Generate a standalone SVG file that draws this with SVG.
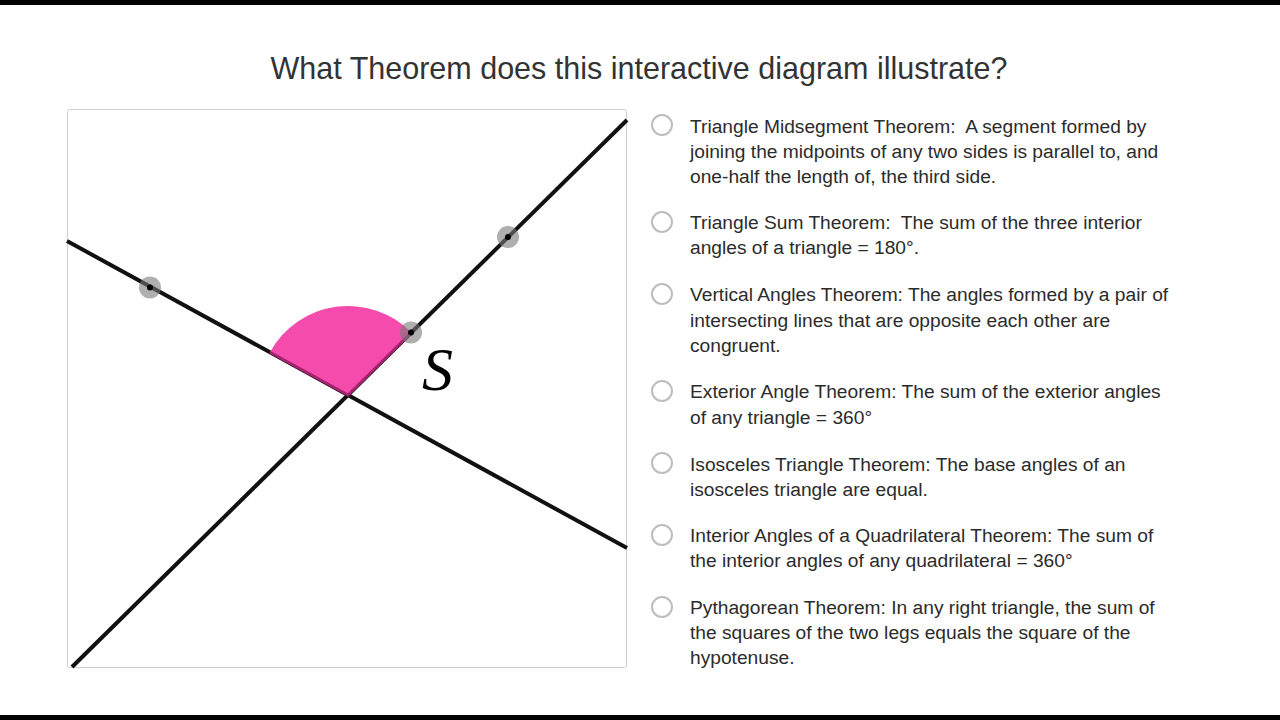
<svg xmlns="http://www.w3.org/2000/svg" width="1280" height="720" viewBox="0 0 1280 720">
<style>
.title{font-family:"Liberation Sans",Arial,sans-serif;font-size:30.5px;fill:#333;}
.opt{font-family:"Liberation Sans",Arial,sans-serif;font-size:19.2px;fill:#2b2b2b;white-space:pre;}
.radio{fill:#fff;stroke:#bdbdbd;stroke-width:2;}
.line{stroke:#111;stroke-width:4;fill:none;stroke-linecap:butt;}
.handle{fill:#7a7a7a;opacity:0.6;}
.dot{fill:#000;}
</style>
<rect x="0" y="0" width="1280" height="720" fill="#fff"/>
<rect x="0" y="0" width="1280" height="5" fill="#000"/>
<rect x="0" y="715" width="1280" height="5" fill="#000"/>
<text class="title" x="639" y="79" text-anchor="middle">What Theorem does this interactive diagram illustrate?</text>

<g id="diagram">
<rect x="67.5" y="109.5" width="559" height="558" rx="2" fill="#fff" stroke="#cfcfcf" stroke-width="1"/>
<g id="connectors">
<line class="line" x1="67" y1="241" x2="627" y2="548"/>
<line class="line" x1="72" y1="667" x2="627" y2="120"/>
</g>
<g id="angle-S">
<path d="M348,395 L270,352.2 A89,89 0 0,1 411.4,332.5 Z" fill="#f44bad"/>
<polyline points="270,352.2 348,395 411.4,332.5" fill="none" stroke="#a8236f" stroke-width="3"/>
</g>
<g id="point-1"><circle class="handle" cx="150" cy="287.5" r="11"/><circle class="dot" cx="150" cy="287.5" r="3"/></g>
<g id="point-2"><circle class="handle" cx="508" cy="237" r="11"/><circle class="dot" cx="508" cy="237" r="3"/></g>
<g id="point-3"><circle class="handle" cx="411" cy="332.5" r="11"/><circle class="dot" cx="411" cy="332.5" r="3"/></g>
<text x="422" y="390" font-family="'Liberation Serif','Times New Roman',serif" font-style="italic" font-size="62" fill="#000">S</text>
</g>

<g id="option-1">
<circle class="radio" cx="662" cy="125" r="10"/>
<text class="opt" x="690" y="133" xml:space="preserve">Triangle Midsegment Theorem:  A segment formed by</text>
<text class="opt" x="690" y="158">joining the midpoints of any two sides is parallel to, and</text>
<text class="opt" x="690" y="183">one-half the length of, the third side.</text>
</g>
<g id="option-2">
<circle class="radio" cx="662" cy="222" r="10"/>
<text class="opt" x="690" y="229" xml:space="preserve">Triangle Sum Theorem:  The sum of the three interior</text>
<text class="opt" x="690" y="254">angles of a triangle = 180°.</text>
</g>
<g id="option-3">
<circle class="radio" cx="662" cy="294" r="10"/>
<text class="opt" x="690" y="301">Vertical Angles Theorem: The angles formed by a pair of</text>
<text class="opt" x="690" y="327">intersecting lines that are opposite each other are</text>
<text class="opt" x="690" y="352">congruent.</text>
</g>
<g id="option-4">
<circle class="radio" cx="662" cy="391" r="10"/>
<text class="opt" x="690" y="398">Exterior Angle Theorem: The sum of the exterior angles</text>
<text class="opt" x="690" y="424">of any triangle = 360°</text>
</g>
<g id="option-5">
<circle class="radio" cx="662" cy="463" r="10"/>
<text class="opt" x="690" y="471">Isosceles Triangle Theorem: The base angles of an</text>
<text class="opt" x="690" y="496">isosceles triangle are equal.</text>
</g>
<g id="option-6">
<circle class="radio" cx="662" cy="535" r="10"/>
<text class="opt" x="690" y="542">Interior Angles of a Quadrilateral Theorem: The sum of</text>
<text class="opt" x="690" y="567">the interior angles of any quadrilateral = 360°</text>
</g>
<g id="option-7">
<circle class="radio" cx="662" cy="607" r="10"/>
<text class="opt" x="690" y="614">Pythagorean Theorem: In any right triangle, the sum of</text>
<text class="opt" x="690" y="639">the squares of the two legs equals the square of the</text>
<text class="opt" x="690" y="664">hypotenuse.</text>
</g>
</svg>
